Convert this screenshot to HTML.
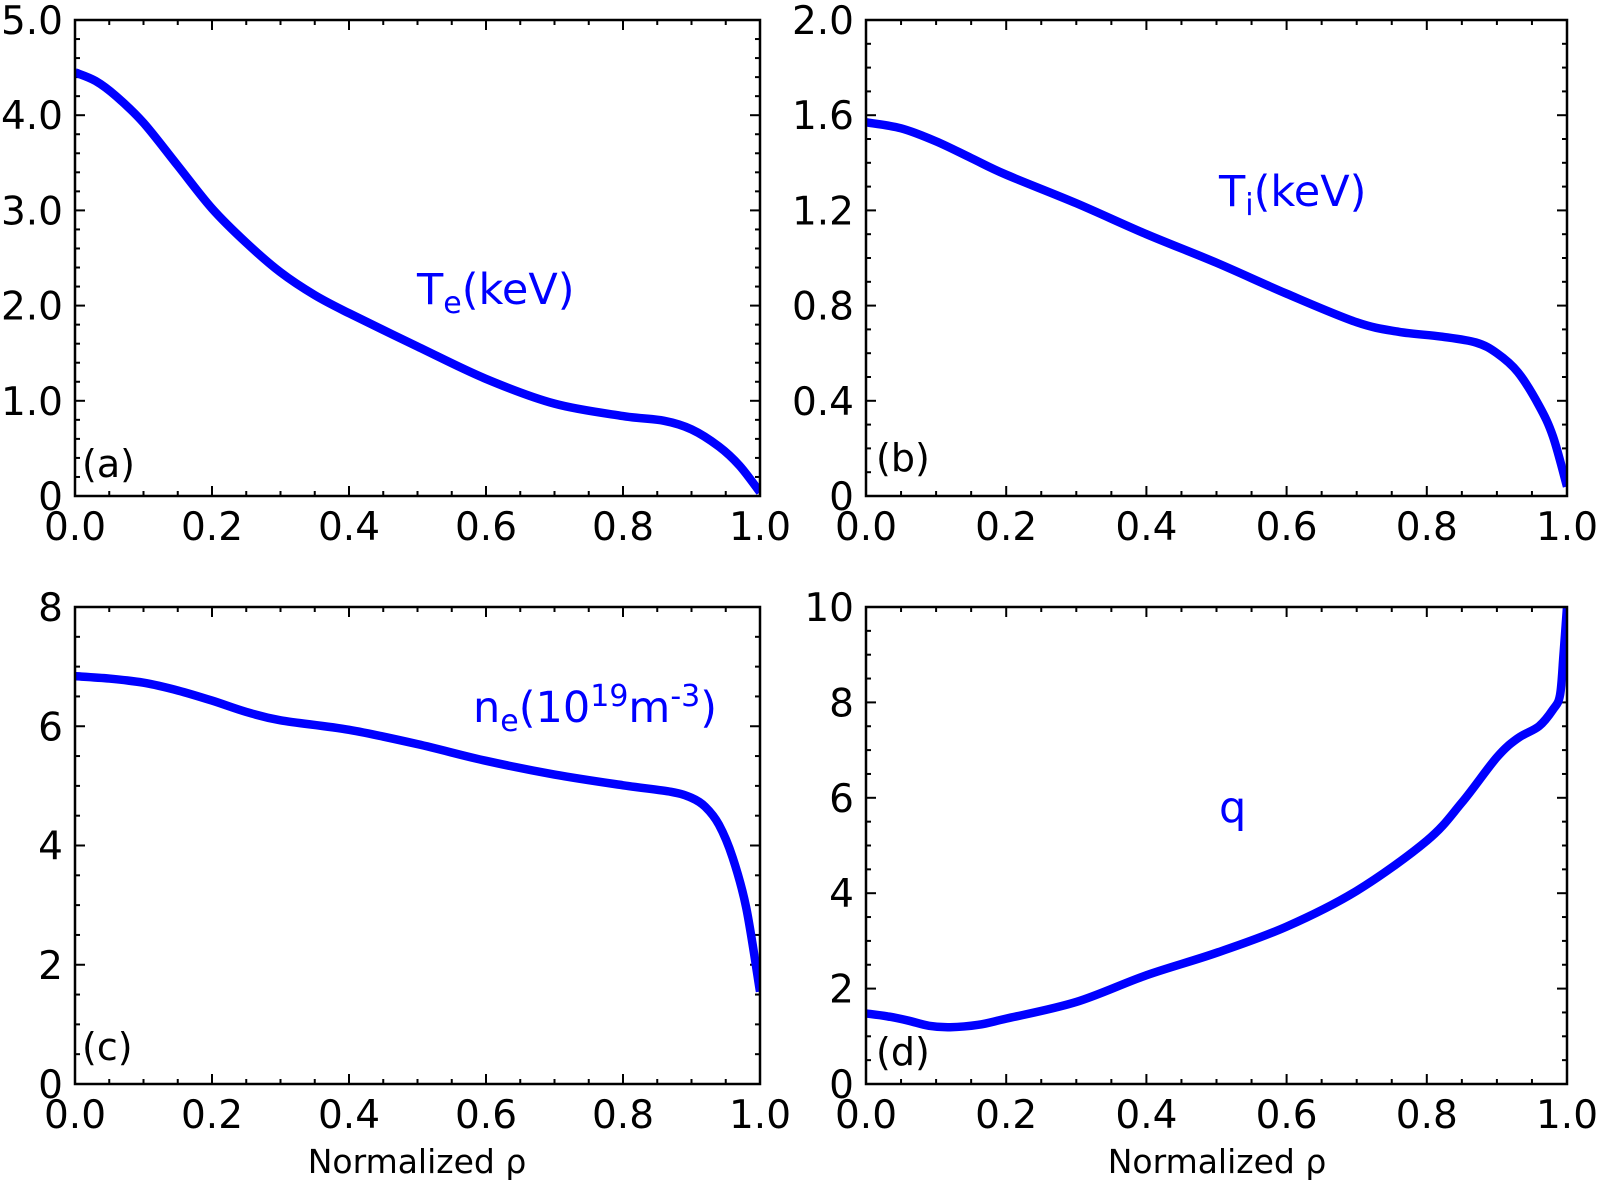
<!DOCTYPE html>
<html><head><meta charset="utf-8"><style>
html,body{margin:0;padding:0;background:#fff}
svg text{font-family:"DejaVu Sans","Liberation Sans",sans-serif}
</style></head><body>
<svg id="s" width="1600" height="1189" xmlns="http://www.w3.org/2000/svg"></svg>
<script>
const S=document.getElementById('s');let h='';
const panels=[
 {x0:75,x1:760,y0:20,y1:496,ymax:5,ymaj:1,ymin:0.2,fmt:v=>v==0?'0':v.toFixed(1),lab:'(a)',lx:82,ly:477,
  d:[[0,4.45],[0.03,4.36],[0.06,4.2],[0.1,3.92],[0.15,3.47],[0.2,3.02],[0.25,2.66],[0.3,2.35],[0.35,2.11],[0.4,1.92],[0.5,1.57],[0.6,1.23],[0.7,0.97],[0.8,0.84],[0.86,0.79],[0.9,0.7],[0.94,0.52],[0.97,0.32],[1.0,0.04]]},
 {x0:866,x1:1567,y0:20,y1:496,ymax:2,ymaj:0.4,ymin:0.1,fmt:v=>v==0?'0':v.toFixed(1),lab:'(b)',lx:876,ly:471,
  d:[[0,1.57],[0.05,1.545],[0.1,1.49],[0.15,1.42],[0.2,1.35],[0.3,1.23],[0.4,1.1],[0.5,0.98],[0.6,0.85],[0.7,0.73],[0.76,0.69],[0.82,0.67],[0.87,0.645],[0.9,0.6],[0.93,0.52],[0.96,0.38],[0.98,0.25],[1.0,0.04]]},
 {x0:75,x1:760,y0:607,y1:1084,ymax:8,ymaj:2,ymin:0.5,fmt:v=>String(v),lab:'(c)',lx:82,ly:1060,
  d:[[0,6.84],[0.05,6.8],[0.1,6.73],[0.15,6.6],[0.2,6.43],[0.25,6.24],[0.3,6.1],[0.4,5.94],[0.5,5.7],[0.6,5.42],[0.7,5.19],[0.8,5.01],[0.87,4.9],[0.9,4.8],[0.92,4.65],[0.94,4.35],[0.96,3.8],[0.98,2.95],[1.0,1.55]]},
 {x0:866,x1:1567,y0:607,y1:1084,ymax:10,ymaj:2,ymin:0.5,fmt:v=>String(v),lab:'(d)',lx:876,ly:1065,
  d:[[0,1.48],[0.03,1.42],[0.06,1.33],[0.09,1.22],[0.12,1.19],[0.16,1.24],[0.2,1.37],[0.3,1.72],[0.4,2.28],[0.5,2.75],[0.6,3.3],[0.7,4.05],[0.8,5.1],[0.85,5.9],[0.9,6.85],[0.93,7.25],[0.96,7.5],[0.98,7.85],[0.99,8.15],[0.995,9.0],[1.0,10]]}
];
for(const p of panels){
 const X=v=>p.x0+v*(p.x1-p.x0), Y=v=>p.y1-v/p.ymax*(p.y1-p.y0);
 for(let i=0;i<=20;i++){const v=i*0.05,x=X(v),L=i%4==0?10:5;
  h+=`<line x1="${x}" y1="${p.y1}" x2="${x}" y2="${p.y1-L}" stroke="#000" stroke-width="2"/><line x1="${x}" y1="${p.y0}" x2="${x}" y2="${p.y0+L}" stroke="#000" stroke-width="2"/>`;
  if(i%4==0) h+=`<text x="${x}" y="${p.y1+44}" font-size="39" text-anchor="middle">${v.toFixed(1)}</text>`;}
 const n=Math.round(p.ymax/p.ymin), r=Math.round(p.ymaj/p.ymin);
 for(let i=0;i<=n;i++){const v=i*p.ymin,y=Y(v),L=i%r==0?10:5;
  h+=`<line x1="${p.x0}" y1="${y}" x2="${p.x0+L}" y2="${y}" stroke="#000" stroke-width="2"/><line x1="${p.x1}" y1="${y}" x2="${p.x1-L}" y2="${y}" stroke="#000" stroke-width="2"/>`;
  if(i%r==0) h+=`<text x="${p.x0-12}" y="${y+14}" font-size="39" text-anchor="end">${p.fmt(Math.round(v*10)/10)}</text>`;}
 const pts=p.d.map(a=>[X(a[0]),Y(a[1])]);let d=`M${pts[0][0]},${pts[0][1]}`;
 for(let i=0;i<pts.length-1;i++){const p0=pts[Math.max(0,i-1)],p1=pts[i],p2=pts[i+1],p3=pts[Math.min(pts.length-1,i+2)];
  d+=` C${p1[0]+(p2[0]-p0[0])/6},${p1[1]+(p2[1]-p0[1])/6} ${p2[0]-(p3[0]-p1[0])/6},${p2[1]-(p3[1]-p1[1])/6} ${p2[0]},${p2[1]}`;}
 h+=`<clipPath id="c${p.x0}${p.y0}"><rect x="${p.x0}" y="${p.y0-5}" width="${p.x1-p.x0}" height="${p.y1-p.y0+5}"/></clipPath>`;
 h+=`<path d="${d}" fill="none" stroke="#0000ff" stroke-width="8.5" stroke-linejoin="round" clip-path="url(#c${p.x0}${p.y0})"/>`;
 h+=`<rect x="${p.x0}" y="${p.y0}" width="${p.x1-p.x0}" height="${p.y1-p.y0}" fill="none" stroke="#000" stroke-width="2.5"/>`;
 h+=`<text x="${p.lx}" y="${p.ly}" font-size="38">${p.lab}</text>`;
}
h+=`<text x="417" y="304" font-size="43" fill="#0000ff">T<tspan font-size="30" dy="9">e</tspan><tspan dy="-9">(keV)</tspan></text>`;
h+=`<text x="1219" y="206" font-size="43" fill="#0000ff">T<tspan font-size="30" dy="9">i</tspan><tspan dy="-9">(keV)</tspan></text>`;
h+=`<text x="473" y="722" font-size="43" fill="#0000ff">n<tspan font-size="30" dy="9">e</tspan><tspan dy="-9">(10</tspan><tspan font-size="30" dy="-16">19</tspan><tspan dy="16">m</tspan><tspan font-size="30" dy="-16">-3</tspan><tspan dy="16">)</tspan></text>`;
h+=`<text x="1219" y="822" font-size="43" fill="#0000ff">q</text>`;
h+=`<text x="417" y="1173" font-size="33" text-anchor="middle">Normalized ρ</text>`;
h+=`<text x="1217" y="1173" font-size="33" text-anchor="middle">Normalized ρ</text>`;
S.innerHTML=h;
</script>
</body></html>
